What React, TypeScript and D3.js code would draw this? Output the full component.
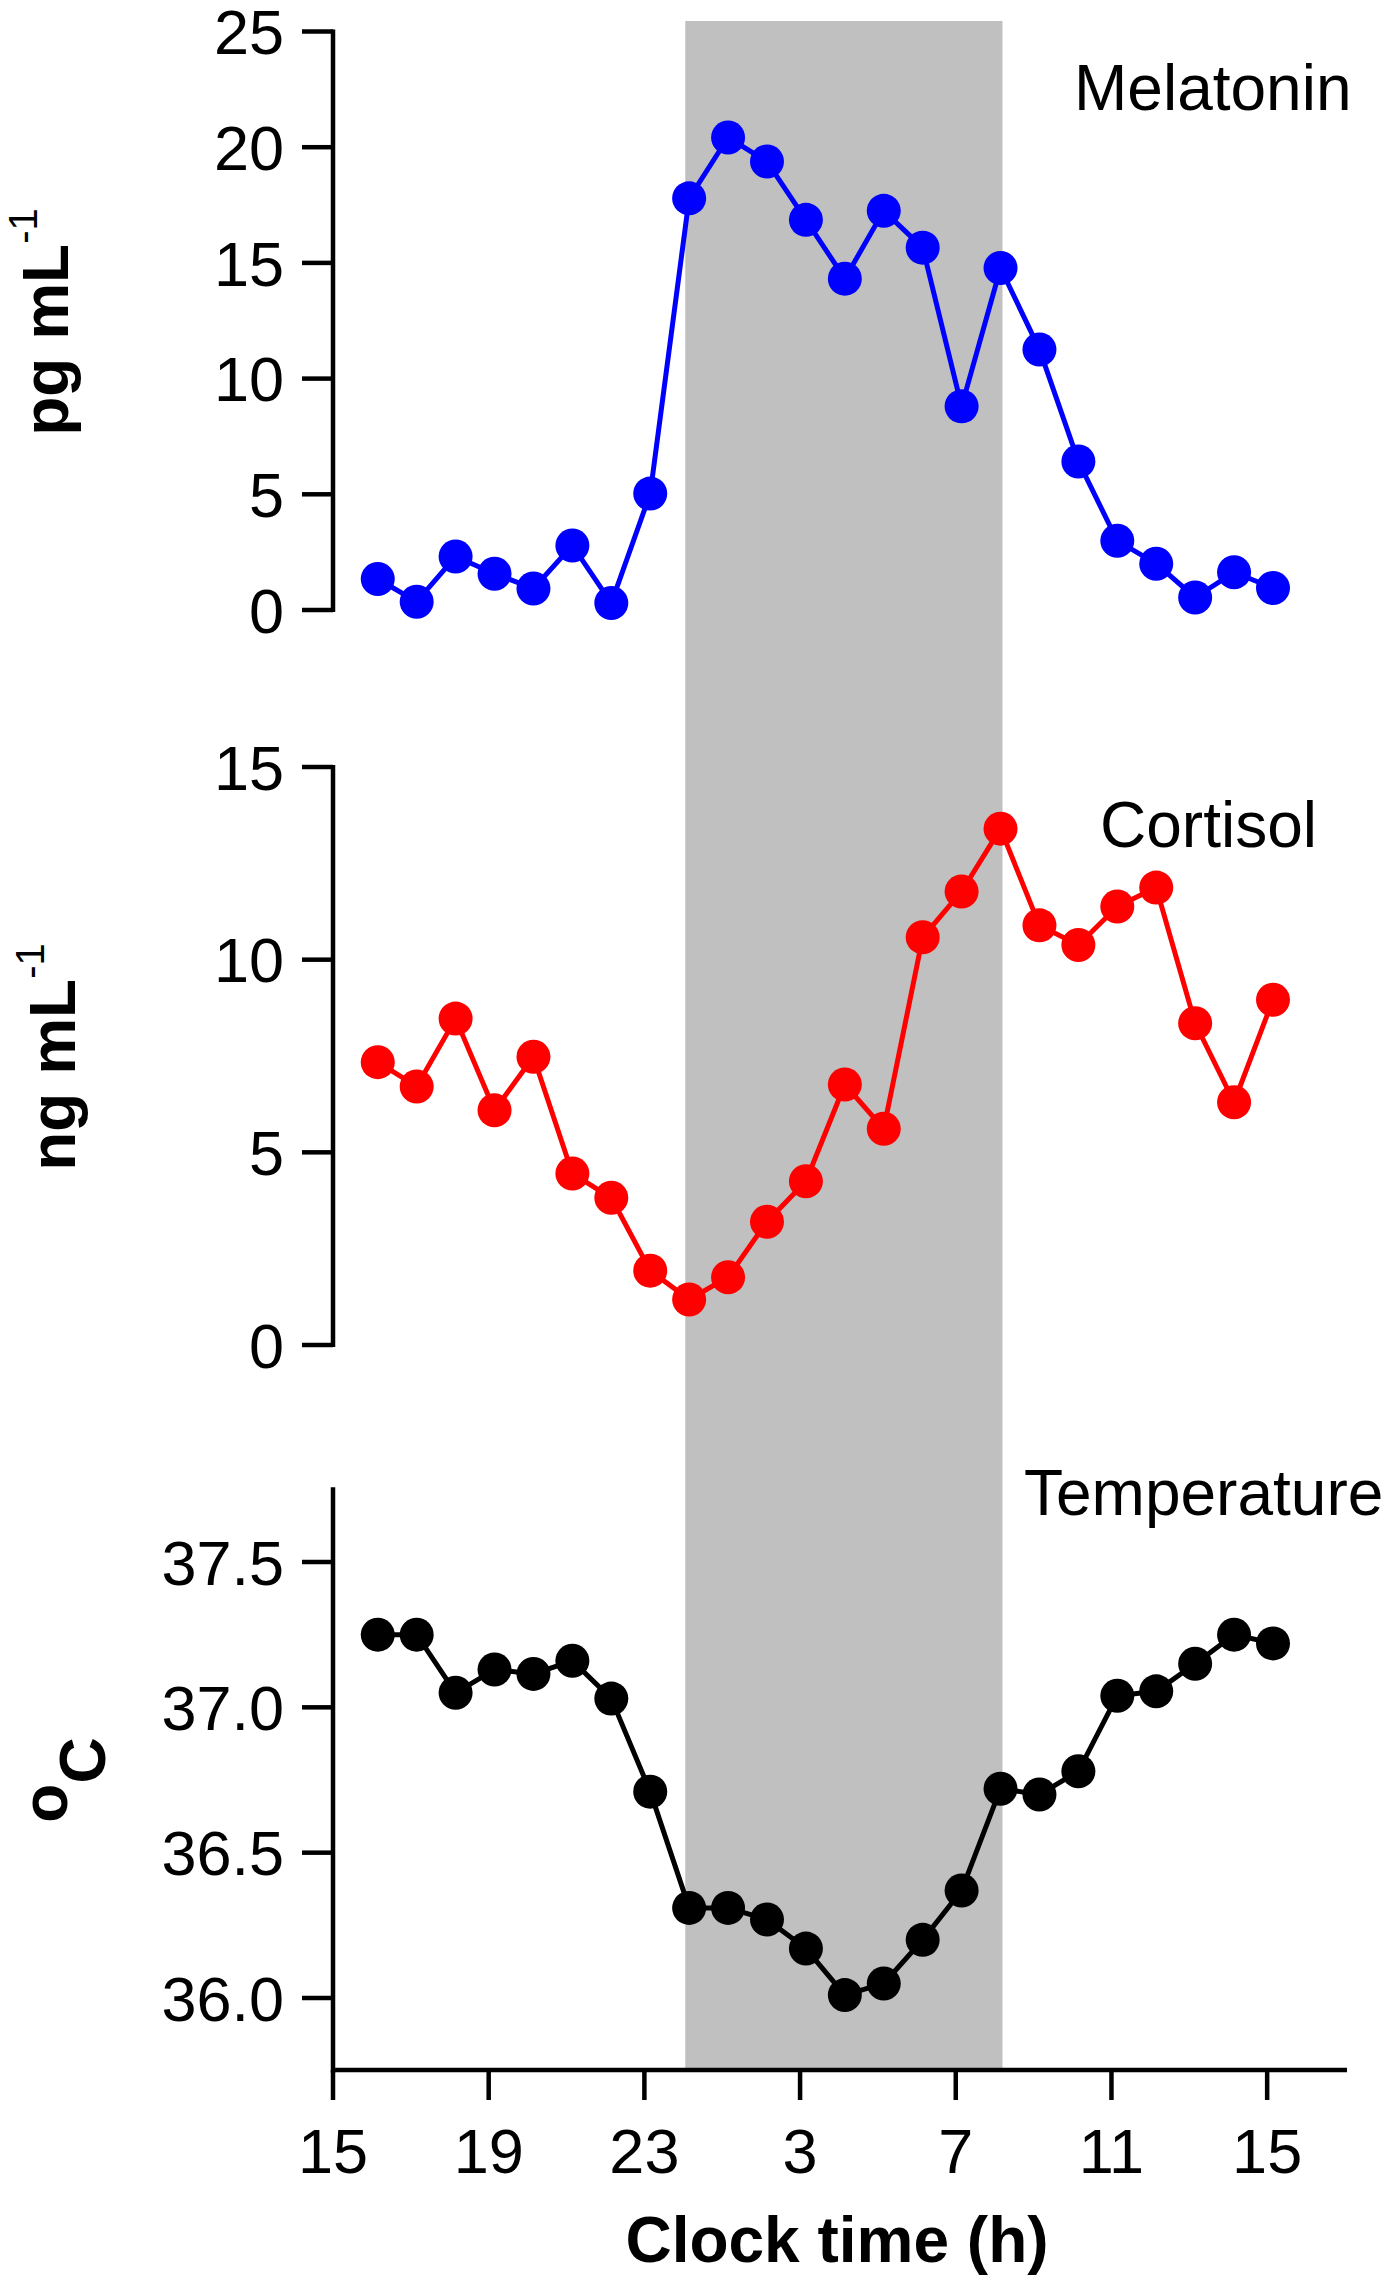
import React from 'react';
import * as d3 from 'd3';

// sampling clock times, decimal hours from day 1 (24 = midnight)
const sampleHours = [16.15, 17.15, 18.15, 19.15, 20.15, 21.15, 22.15, 23.15, 24.15, 25.15, 26.15, 27.15,
    28.15, 29.15, 30.15, 31.15, 32.15, 33.15, 34.15, 35.15, 36.15, 37.15, 38.15, 39.15];

const melatonin = [1.34, 0.36, 2.31, 1.57, 0.93, 2.79, 0.30, 5.03, 17.79, 20.42, 19.38, 16.86,
    14.32, 17.25, 15.66, 8.80, 14.78, 11.26, 6.42, 2.99, 2.00, 0.54, 1.63, 0.95];

const cortisol = [7.34, 6.71, 8.47, 6.09, 7.48, 4.45, 3.82, 1.93, 1.18, 1.76, 3.20, 4.25,
    6.76, 5.61, 10.58, 11.77, 13.40, 10.89, 10.38, 11.38, 11.87, 8.35, 6.30, 8.96];

const temperature = [37.25, 37.25, 37.05, 37.13, 37.115, 37.16, 37.03, 36.71, 36.31, 36.31, 36.27, 36.17,
    36.01, 36.05, 36.20, 36.37, 36.72, 36.70, 36.78, 37.04, 37.055, 37.15, 37.25, 37.22];

// lights-off interval
const sleepWindow = [24.05, 32.2];

const xTicks = [15, 19, 23, 27, 31, 35, 39];
const melatoninTicks = [0, 5, 10, 15, 20, 25];
const cortisolTicks = [0, 5, 10, 15];
const temperatureTicks = [36.0, 36.5, 37.0, 37.5];

const FONT = 'Arial, "Liberation Sans", sans-serif';
const WIDTH = 1400,
    HEIGHT = 2281;

const AXIS_X = 333;
const X_AXIS_Y = 2070;
const TICK = 31;

const x = d3.scaleLinear().domain([15, 41]).range([AXIS_X, 1345]);

interface Panel {
    name: string;
    values: number[];
    color: string;
    domain: [number, number];
    range: [number, number];
    axisDomain: [number, number];
    ticks: number[];
    fmt: (v: number) => string;
    label: { x: number; y: number };
    title: { x: number; y: number; main: string; sup: string; raisedFirst?: boolean };
}

const panels: Panel[] = [
    {
        name: 'Melatonin', values: melatonin, color: '#0000FF',
        domain: [0, 25], range: [610, 31.5], axisDomain: [0, 25],
        ticks: melatoninTicks, fmt: d3.format('d'),
        label: { x: 1074, y: 110 },
        title: { x: 68, y: 322, main: 'pg mL', sup: '-1' }
    },
    {
        name: 'Cortisol', values: cortisol, color: '#FF0000',
        domain: [0, 15], range: [1345, 767], axisDomain: [0, 15],
        ticks: cortisolTicks, fmt: d3.format('d'),
        label: { x: 1100, y: 847 },
        title: { x: 75, y: 1057, main: 'ng mL', sup: '-1' }
    },
    {
        name: 'Temperature', values: temperature, color: '#000000',
        domain: [36.0, 37.5], range: [1998, 1562], axisDomain: [35.75, 37.75],
        ticks: temperatureTicks, fmt: d3.format('.1f'),
        label: { x: 1024, y: 1515 },
        title: { x: 105, y: 1780, main: 'C', sup: 'o', raisedFirst: true }
    }
];

const PanelView = ({ p }: { p: Panel }) => {
    const y = d3.scaleLinear().domain(p.domain).range(p.range);
    const pts = sampleHours.map((h, i) => [x(h), y(p.values[i])] as [number, number]);
    const path = d3.line()(pts) ?? '';
    const [a0, a1] = p.axisDomain;

    return (
        <g>
            <line x1={AXIS_X} x2={AXIS_X} y1={y(a0) + 2} y2={y(a1) - 2} stroke='#000' strokeWidth={4.5} />
            {p.ticks.map(t => (
                <g key={t}>
                    <line x1={AXIS_X - TICK} x2={AXIS_X} y1={y(t)} y2={y(t)} stroke='#000' strokeWidth={4.5} />
                    <text x={284} y={y(t)} dy='0.36em' textAnchor='end' fontSize={63} fontFamily={FONT}>{p.fmt(t)}</text>
                </g>
            ))}
            <path d={path} fill='none' stroke={p.color} strokeWidth={5} strokeLinejoin='round' />
            {pts.map((d, i) => <circle key={i} cx={d[0]} cy={d[1]} r={17} fill={p.color} />)}
            <text x={p.label.x} y={p.label.y} fontSize={64} fontFamily={FONT}>{p.name}</text>
            <text transform={`translate(${p.title.x},${p.title.y}) rotate(-90)`} textAnchor='middle'
                fontFamily={FONT} fontWeight='bold' fontSize={64}>
                {p.title.raisedFirst ? (
                    <>
                        <tspan dy={-38}>{p.title.sup}</tspan>
                        <tspan dy={38}>{p.title.main}</tspan>
                    </>
                ) : (
                    <>
                        <tspan>{p.title.main}</tspan>
                        <tspan dy={-31} fontSize={40} fontWeight='normal'>{p.title.sup}</tspan>
                    </>
                )}
            </text>
        </g>
    );
};

export default function App() {
    return (
        <svg width={WIDTH} height={HEIGHT} style={{ position: 'absolute', left: 0, top: 0, background: '#fff' }}>
            <rect x={x(sleepWindow[0])} y={21} width={x(sleepWindow[1]) - x(sleepWindow[0])} height={X_AXIS_Y - 21}
                fill='#C0C0C0' />
            {panels.map(p => <PanelView key={p.name} p={p} />)}
            {/* shared time axis under the temperature panel */}
            <line x1={AXIS_X - 2} x2={1347} y1={X_AXIS_Y} y2={X_AXIS_Y} stroke='#000' strokeWidth={4.5} />
            {xTicks.map(t => (
                <g key={t}>
                    <line x1={x(t)} x2={x(t)} y1={X_AXIS_Y} y2={X_AXIS_Y + 30} stroke='#000' strokeWidth={4.5} />
                    <text x={x(t)} y={2173} textAnchor='middle' fontSize={63} fontFamily={FONT}>{t % 24}</text>
                </g>
            ))}
            <text x={837} y={2262} textAnchor='middle' fontSize={64} fontWeight='bold' fontFamily={FONT}>Clock time (h)</text>
        </svg>
    );
}
